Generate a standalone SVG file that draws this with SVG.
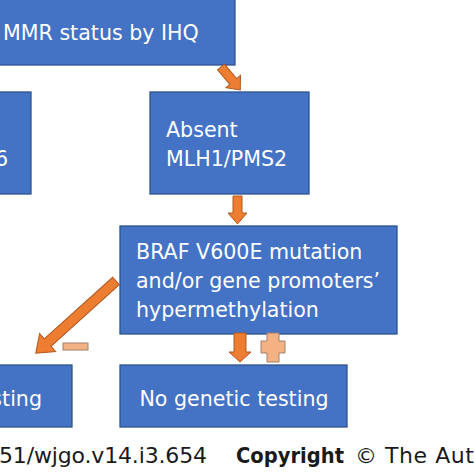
<svg xmlns="http://www.w3.org/2000/svg" width="474" height="474" viewBox="0 0 474 474">
<style>
.box{fill:#4472C4;stroke:#2F528F;stroke-width:1.3}
.t{font-family:"DejaVu Sans",Verdana,sans-serif;font-size:20.6px;fill:#ffffff}
.arr{fill:#ED7D31;stroke:#AE5A21;stroke-width:1}
.sign{fill:#F4B183;stroke:#A0806A;stroke-width:1}
.foot{font-family:"DejaVu Sans",Verdana,sans-serif;font-size:22px;fill:#1a1a1a}
</style>
<rect width="474" height="474" fill="#ffffff"/>
<g id="mmr">
<rect class="box" x="-5" y="-5" width="240" height="70"/>
<text class="t" x="3" y="40">MMR status by IHQ</text>
</g>
<g id="absent-msh">
<rect class="box" x="-5" y="92" width="36" height="102"/>
<text class="t" x="8" y="166" text-anchor="end">6</text>
</g>
<g id="absent-mlh">
<rect class="box" x="150" y="92" width="159" height="102"/>
<text class="t" x="166" y="137">Absent</text>
<text class="t" x="166" y="166">MLH1/PMS2</text>
</g>
<g id="braf">
<rect class="box" x="120" y="226" width="277" height="108"/>
<text class="t" x="136" y="259">BRAF V600E mutation</text>
<text class="t" x="136" y="288">and/or gene promoters’</text>
<text class="t" x="136" y="317">hypermethylation</text>
</g>
<g id="testing">
<rect class="box" x="-5" y="365" width="77" height="62"/>
<text class="t" x="42" y="406" text-anchor="end">sting</text>
</g>
<g id="no-testing">
<rect class="box" x="120" y="365" width="227" height="62"/>
<text class="t" x="234" y="406" text-anchor="middle">No genetic testing</text>
</g>
<g id="connectors">
<path class="arr" transform="translate(221,67) rotate(50)" d="M0,-4.5 H19 V-9.5 L30,0 L19,9.5 V4.5 H0 Z"/>
<path class="arr" d="M233,196 H242 V213 H247 L237.5,224 L228,213 H233 Z"/>
<path class="arr" transform="translate(116,281) rotate(138)" d="M0,-5 H92 V-12 L108,0 L92,12 V5 H0 Z"/>
<path class="arr" d="M234,333 H246 V352 H251 L240,362 L229,352 H234 Z"/>
<rect class="sign" x="63" y="343" width="25" height="7"/>
<path class="sign" d="M267,333 H279 V341 H285 V353 H279 V362 H267 V353 H261 V341 H267 Z"/>
</g>
<text class="foot" x="-1" y="463" textLength="208">51/wjgo.v14.i3.654</text>
<text class="foot" x="236" y="463" font-weight="bold" textLength="108" lengthAdjust="spacingAndGlyphs">Copyright</text>
<text class="foot" x="355" y="463" textLength="119">© The Aut</text>
</svg>
